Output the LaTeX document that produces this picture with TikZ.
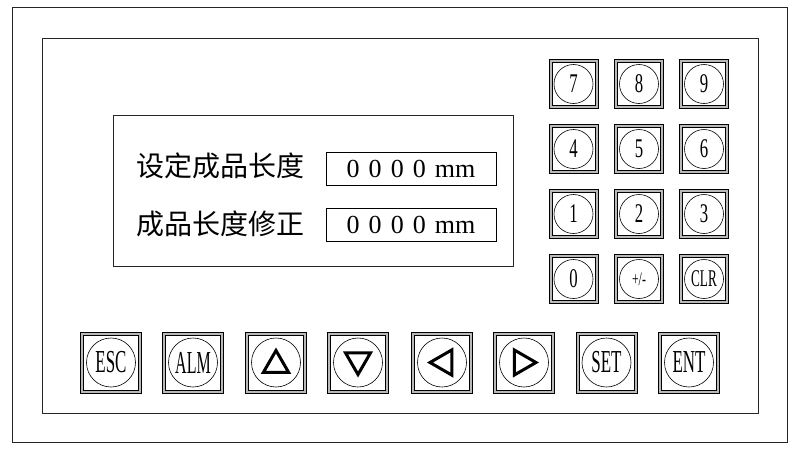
\documentclass[tikz,border=0pt]{standalone}
\usepackage{fontspec}
\setmainfont{Liberation Serif}
\newfontfamily\cjk{Noto Sans CJK SC}
\usepackage{graphicx}
\usetikzlibrary{shapes.geometric}
\newcommand\keytext[2][0.62]{\scalebox{#1}[1]{#2}}
\newcommand\gap{\hspace{0.35em}}

\begin{document}
\begin{tikzpicture}[x=1pt, y=-1pt, line width=1pt,
    frame/.style={draw, double=gray!55, double distance=2pt, line width=1pt,
        minimum width=#1, minimum height=#1, inner sep=0pt},
    face/.style={draw, circle, line width=0.6pt, minimum size=#1, inner sep=0pt},
    padtext/.style={font=\fontsize{27}{27}\selectfont},
    btntext/.style={font=\fontsize{32}{32}\selectfont},
    tri/.style={draw, regular polygon, regular polygon sides=3, line width=3pt,
        minimum size=29pt, inner sep=0pt, shape border rotate=#1},
    valbox/.style={draw, line width=0.9pt, minimum width=170pt, minimum height=33pt,
        inner sep=0pt, font=\fontsize{26}{26}\selectfont}]
    \useasboundingbox (0,0) rectangle (793,450);
    % panel
    \draw[black!85] (12,7) rectangle (787,442);
    \draw[black!85] (42,38) rectangle (758,413);
    % display
    \draw[black!85] (113,115) rectangle (513,266);
    \node[font=\cjk\fontsize{28}{28}\selectfont] (setlen) at (220.5,166) {设定成品长度};
    \node[font=\cjk\fontsize{28}{28}\selectfont] (fixlen) at (220.5,224) {成品长度修正};
    \node[valbox] (setval) at (411,168.5) {0\gap0\gap0\gap0\gap mm};
    \node[valbox] (fixval) at (411,225) {0\gap0\gap0\gap0\gap mm};
    % keypad
    \node[frame=46pt] (k7) at (573.5,84) {};
    \node[face=39pt, padtext] at (k7) {\keytext{7}};
    \node[frame=46pt] (k8) at (639,84) {};
    \node[face=39pt, padtext] at (k8) {\keytext{8}};
    \node[frame=46pt] (k9) at (704,84) {};
    \node[face=39pt, padtext] at (k9) {\keytext{9}};
    \node[frame=46pt] (k4) at (573.5,149) {};
    \node[face=39pt, padtext] at (k4) {\keytext{4}};
    \node[frame=46pt] (k5) at (639,149) {};
    \node[face=39pt, padtext] at (k5) {\keytext{5}};
    \node[frame=46pt] (k6) at (704,149) {};
    \node[face=39pt, padtext] at (k6) {\keytext{6}};
    \node[frame=46pt] (k1) at (573.5,214) {};
    \node[face=39pt, padtext] at (k1) {\keytext{1}};
    \node[frame=46pt] (k2) at (639,214) {};
    \node[face=39pt, padtext] at (k2) {\keytext{2}};
    \node[frame=46pt] (k3) at (704,214) {};
    \node[face=39pt, padtext] at (k3) {\keytext{3}};
    \node[frame=46pt] (k0) at (573.5,279) {};
    \node[face=39pt, padtext] at (k0) {\keytext{0}};
    \node[frame=46pt] (ksign) at (639,279) {};
    \node[face=39pt, font=\fontsize{19}{19}\selectfont] at (ksign) {\keytext{+/-}};
    \node[frame=46pt] (kclr) at (704,279) {};
    \node[face=39pt, font=\fontsize{24}{24}\selectfont] at (kclr) {\keytext[0.55]{CLR}};
    % function keys
    \node[frame=58pt] (esc) at (111,362.5) {};
    \node[face=49pt, btntext] at (esc) {\keytext[0.53]{ESC}};
    \node[frame=58pt] (alm) at (193,362.5) {};
    \node[face=49pt, btntext] at (alm) {\keytext[0.5]{ALM}};
    \node[frame=58pt] (up) at (276,362.5) {};
    \node[face=49pt] at (up) {};
    \node[tri=0] (uptri) at (276,365) {};
    \node[frame=58pt] (down) at (358,362.5) {};
    \node[face=49pt] at (down) {};
    \node[tri=180] (downtri) at (358,360) {};
    \node[frame=58pt] (left) at (442,362.5) {};
    \node[face=49pt] at (left) {};
    \node[tri=90] (lefttri) at (444.5,362.5) {};
    \node[frame=58pt] (right) at (524,362.5) {};
    \node[face=49pt] at (right) {};
    \node[tri=270] (righttri) at (521.5,362.5) {};
    \node[frame=58pt] (set) at (606.5,362.5) {};
    \node[face=49pt, btntext] at (set) {\keytext[0.53]{SET}};
    \node[frame=58pt] (ent) at (689,362.5) {};
    \node[face=49pt, btntext] at (ent) {\keytext[0.53]{ENT}};
\end{tikzpicture}
\end{document}
